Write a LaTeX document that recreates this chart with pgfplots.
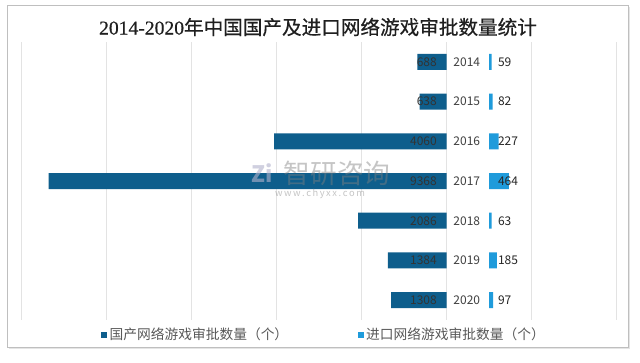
\documentclass[border=0pt]{standalone}
\usepackage{pgfplots}
\pgfplotsset{compat=1.18}
\usepackage{pgfplotstable}
\usepackage{fontspec}
\setmainfont{Noto Sans CJK SC}
\newfontfamily\serifdigits{Liberation Serif}[FakeBold=0.5]
\newfontfamily\titlecjk{Noto Sans CJK SC}[FakeBold=0.5]
\definecolor{domc}{HTML}{0E5E8C}
\definecolor{impc}{HTML}{1F9BDB}
\definecolor{txt}{HTML}{404040}
\definecolor{gridc}{HTML}{E3E3E3}
\definecolor{lgtxt}{HTML}{595959}

\pgfplotstableread{
idx year dom imp
0 2014 688 59
1 2015 638 82
2 2016 4060 227
3 2017 9368 464
4 2018 2086 63
5 2019 1384 185
6 2020 1308 97
}\datatable

\begin{document}
\begin{tikzpicture}
\path (0,0) rectangle (480pt,271.5pt);
\fill[black!10] (6.75pt,9.75pt) rectangle (472.5pt,266.25pt);
\draw[fill=white, draw=black!25, line width=0.6pt] (5.25pt,11.25pt) rectangle (471pt,267.75pt);
\node[font=\titlecjk\fontsize{14.7}{16}\selectfont, text=black!88] at (238.5pt,251.25pt) {{\serifdigits 2014-2020}年中国国产及进口网络游戏审批数量统计};

\begin{axis}[
  at={(16.3pt,31.5pt)}, anchor=south west, scale only axis,
  width=446.25pt, height=208.5pt,
  xmin=-10000, xmax=4000, ymin=-0.5, ymax=6.5, y dir=reverse,
  xtick={-10000,-8000,...,4000}, xticklabels={}, ytick=\empty, scaled x ticks=false,
  xmajorgrids, grid style={draw=gridc, line width=0.6pt},
  axis line style={draw=none}, tick style={draw=none},
  legend columns=2,
  legend image code/.code={\fill[#1] (0pt,-2.6pt) rectangle (4.5pt,2.6pt);},
  legend style={at={(0.5,0)}, anchor=center, yshift=-11.25pt, xshift=3.75pt, draw=none, fill=none,
    font=\fontsize{10.3}{11}\selectfont, text=lgtxt,
    /tikz/every even column/.append style={column sep=50pt}},
]
\addplot[forget plot, xbar, bar width=12pt, fill=domc, draw=none]
  table[x expr=-\thisrow{dom}, y=idx]{\datatable};
\addlegendimage{fill=domc, draw=none}
\addlegendentry{国产网络游戏审批数量（个）}
\addlegendimage{fill=impc, draw=none}
\addlegendentry{进口网络游戏审批数量（个）}
\addplot[forget plot, draw=none, mark=none, nodes near coords, point meta=explicit symbolic,
  nodes near coords style={anchor=east, inner sep=0pt, font=\fontsize{9}{10}\selectfont, text=black!80}]
  table[x expr=-228, y=idx, meta=dom]{\datatable};
\addplot[forget plot, draw=none, mark=none, nodes near coords, point meta=explicit symbolic,
  nodes near coords style={anchor=center, inner sep=0pt, font=\fontsize{9}{10}\selectfont, text=txt}]
  table[x expr=471, y=idx, meta=year]{\datatable};
\end{axis}

\begin{axis}[
  at={(16.3pt,31.5pt)}, anchor=south west, scale only axis,
  width=446.25pt, height=208.5pt,
  xmin=-10995, xmax=3005, ymin=-0.5, ymax=6.5, y dir=reverse,
  hide axis,
]
\addplot[xbar, bar width=12pt, fill=impc, draw=none]
  table[x=imp, y=idx]{\datatable};
\addplot[draw=none, mark=none, nodes near coords, point meta=explicit symbolic,
  nodes near coords style={anchor=west, inner sep=0pt, font=\fontsize{9}{10}\selectfont, text=black!85}]
  table[x expr=205, y=idx, meta=imp]{\datatable};
\end{axis}

% watermark
\node[font=\fontsize{20}{22}\selectfont, text=gray, opacity=0.45] at (252.75pt,141.75pt) {智研咨询};
\node[font=\bfseries\fontsize{17}{18}\selectfont, text=blue!20!gray!50, opacity=0.6] at (196.5pt,142pt) {Zi};
\node[font=\fontsize{7}{8}\selectfont, text=gray, opacity=0.45] at (240pt,126pt) {w\,w\,w\,.\,c\,h\,y\,x\,x\,.\,c\,o\,m};
\end{tikzpicture}
\end{document}
